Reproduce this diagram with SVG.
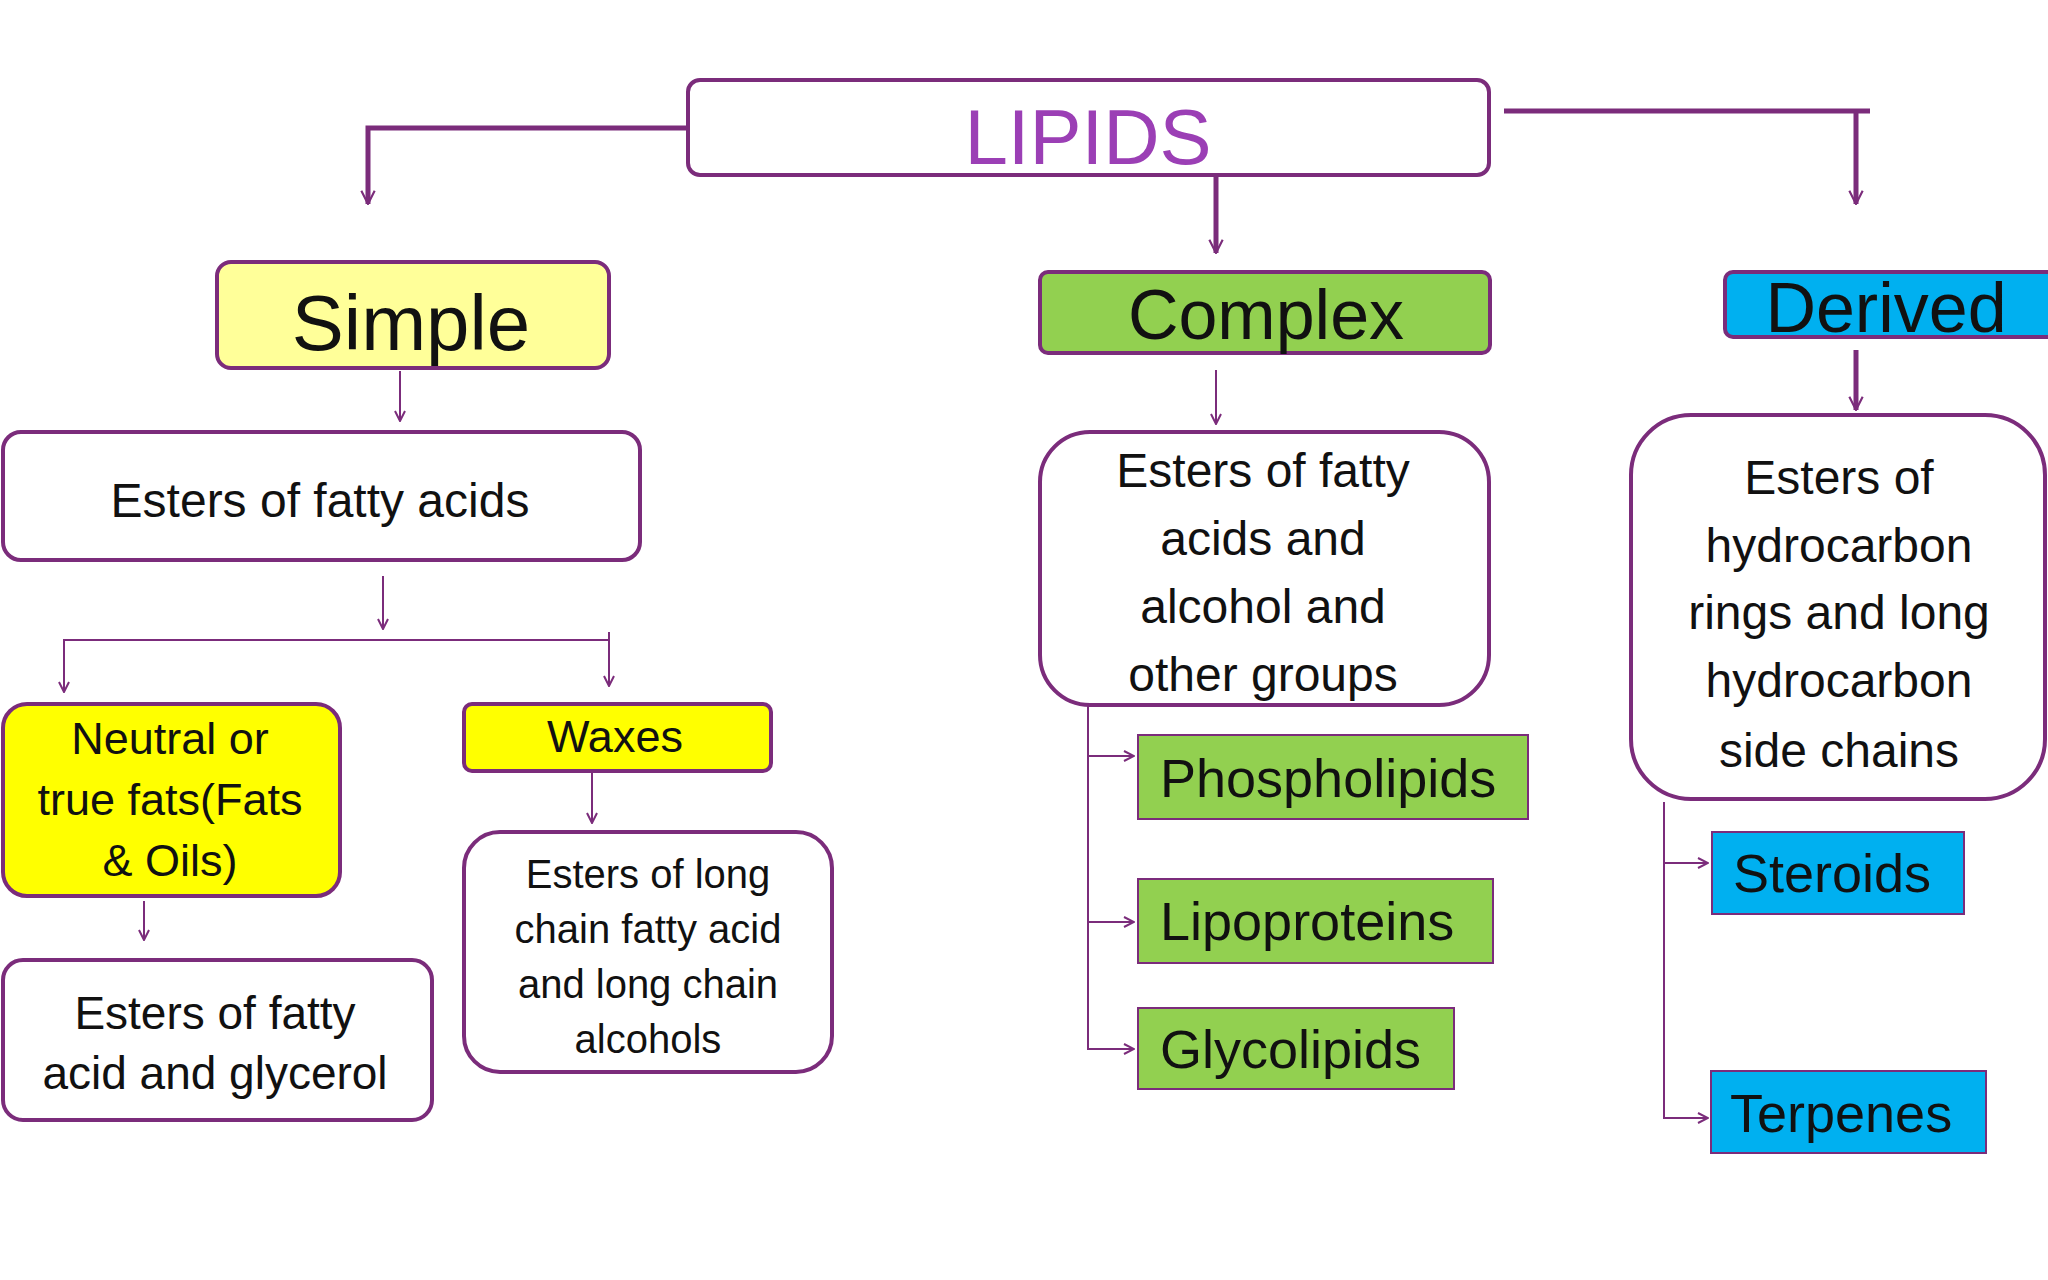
<svg xmlns="http://www.w3.org/2000/svg" width="2048" height="1280" viewBox="0 0 2048 1280">
<defs>
<marker id="ah" viewBox="0 0 12 12" refX="11" refY="6" markerWidth="12" markerHeight="12" markerUnits="userSpaceOnUse" orient="auto">
<path d="M1,1 L11,6 L1,11" fill="none" stroke="#7b2c7b" stroke-width="2"/>
</marker>
<marker id="ahb" viewBox="0 0 12 12" refX="11" refY="6" markerWidth="16" markerHeight="16" markerUnits="userSpaceOnUse" orient="auto">
<path d="M1,1 L11,6 L1,11" fill="none" stroke="#7b2c7b" stroke-width="1.6"/>
</marker>
</defs>
<style>
text{font-family:"Liberation Sans",Arial,sans-serif;fill:#111;}
.c{text-anchor:middle}
.b{stroke:#7b2c7b;stroke-width:4;}
.t{stroke:#7b2c7b;stroke-width:2;fill:none}
.k{stroke:#7b2c7b;stroke-width:5;fill:none}
</style>
<rect width="2048" height="1280" fill="#fff"/>
<g id="connectors">
<path class="k" d="M688,128 H368 V204" marker-end="url(#ahb)"/>
<path class="k" d="M1504,111 H1870 M1856,111 V204" marker-end="url(#ahb)"/>
<path class="k" d="M1216,175 V253" marker-end="url(#ahb)"/>
<path class="t" d="M400,371 V421" marker-end="url(#ah)"/>
<path class="t" d="M383,576 V629" marker-end="url(#ah)"/>
<path class="t" d="M64,692 V640 H609"/>
<path class="t" d="M64,660 V692" marker-end="url(#ah)"/>
<path class="t" d="M609,632 V686" marker-end="url(#ah)"/>
<path class="t" d="M592,773 V823" marker-end="url(#ah)"/>
<path class="t" d="M144,901 V940" marker-end="url(#ah)"/>
<path class="t" d="M1216,370 V424" marker-end="url(#ah)"/>
<path class="t" d="M1088,705 V1049 H1134"/>
<path class="t" d="M1088,756 H1134" marker-end="url(#ah)"/>
<path class="t" d="M1088,922 H1134" marker-end="url(#ah)"/>
<path class="t" d="M1088,1049 H1134" marker-end="url(#ah)"/>
<path class="k" d="M1856,350 V410" stroke-width="4" marker-end="url(#ahb)"/>
<path class="t" d="M1664,802 V1118 H1708"/>
<path class="t" d="M1664,863 H1708" marker-end="url(#ah)"/>
<path class="t" d="M1664,1118 H1708" marker-end="url(#ah)"/>
</g>
<g id="lipids"><rect class="b" x="688" y="80" width="801" height="95" rx="12" fill="#fff"/><text class="c" x="1088" y="164" font-size="78" style="fill:#9b3fb5">LIPIDS</text></g>
<g id="simple"><rect class="b" x="217" y="262" width="392" height="106" rx="14" fill="#ffff99"/><text class="c" x="411" y="350" font-size="78">Simple</text></g>
<g id="complex"><rect class="b" x="1040" y="272" width="450" height="81" rx="8" fill="#92d050"/><text class="c" x="1266" y="339" font-size="70">Complex</text></g>
<g id="derived"><rect class="b" x="1725" y="272" width="340" height="65" rx="8" fill="#00b0f0"/><text class="c" x="1886" y="332" font-size="70">Derived</text></g>
<g id="esters-fa"><rect class="b" x="3" y="432" width="637" height="128" rx="18" fill="#fff"/><text class="c" x="320" y="517" font-size="48">Esters of fatty acids</text></g>
<g id="neutral"><rect class="b" x="3" y="704" width="337" height="192" rx="24" fill="#ffff00"/>
<text class="c" font-size="45"><tspan x="170" y="754">Neutral or</tspan><tspan x="170" y="815">true fats(Fats</tspan><tspan x="170" y="876">&amp; Oils)</tspan></text></g>
<g id="waxes"><rect class="b" x="464" y="704" width="307" height="67" rx="8" fill="#ffff00"/><text class="c" x="615" y="752" font-size="45">Waxes</text></g>
<g id="esters-glycerol"><rect class="b" x="3" y="960" width="429" height="160" rx="20" fill="#fff"/>
<text class="c" font-size="46"><tspan x="215" y="1029">Esters of fatty</tspan><tspan x="215" y="1089">acid and glycerol</tspan></text></g>
<g id="esters-long"><rect class="b" x="464" y="832" width="368" height="240" rx="36" fill="#fff"/>
<text class="c" font-size="40"><tspan x="648" y="888">Esters of long</tspan><tspan x="648" y="943">chain fatty acid</tspan><tspan x="648" y="998">and long chain</tspan><tspan x="648" y="1053">alcohols</tspan></text></g>
<g id="esters-complex"><rect class="b" x="1040" y="432" width="449" height="273" rx="50" fill="#fff"/>
<text class="c" font-size="48"><tspan x="1263" y="487">Esters of fatty</tspan><tspan x="1263" y="555">acids and</tspan><tspan x="1263" y="623">alcohol and</tspan><tspan x="1263" y="691">other groups</tspan></text></g>
<g id="phospholipids"><rect x="1138" y="735" width="390" height="84" fill="#92d050" stroke="#7b2c7b" stroke-width="2"/><text x="1160" y="797" font-size="54">Phospholipids</text></g>
<g id="lipoproteins"><rect x="1138" y="879" width="355" height="84" fill="#92d050" stroke="#7b2c7b" stroke-width="2"/><text x="1160" y="940" font-size="54">Lipoproteins</text></g>
<g id="glycolipids"><rect x="1138" y="1008" width="316" height="81" fill="#92d050" stroke="#7b2c7b" stroke-width="2"/><text x="1160" y="1068" font-size="54">Glycolipids</text></g>
<g id="esters-derived"><rect class="b" x="1631" y="415" width="414" height="384" rx="60" fill="#fff"/>
<text class="c" font-size="48"><tspan x="1839" y="494">Esters of</tspan><tspan x="1839" y="562">hydrocarbon</tspan><tspan x="1839" y="629">rings and long</tspan><tspan x="1839" y="697">hydrocarbon</tspan><tspan x="1839" y="767">side chains</tspan></text></g>
<g id="steroids"><rect x="1712" y="832" width="252" height="82" fill="#00b0f0" stroke="#7b2c7b" stroke-width="2"/><text x="1733" y="892" font-size="54">Steroids</text></g>
<g id="terpenes"><rect x="1711" y="1071" width="275" height="82" fill="#00b0f0" stroke="#7b2c7b" stroke-width="2"/><text x="1730" y="1132" font-size="54">Terpenes</text></g>
</svg>
